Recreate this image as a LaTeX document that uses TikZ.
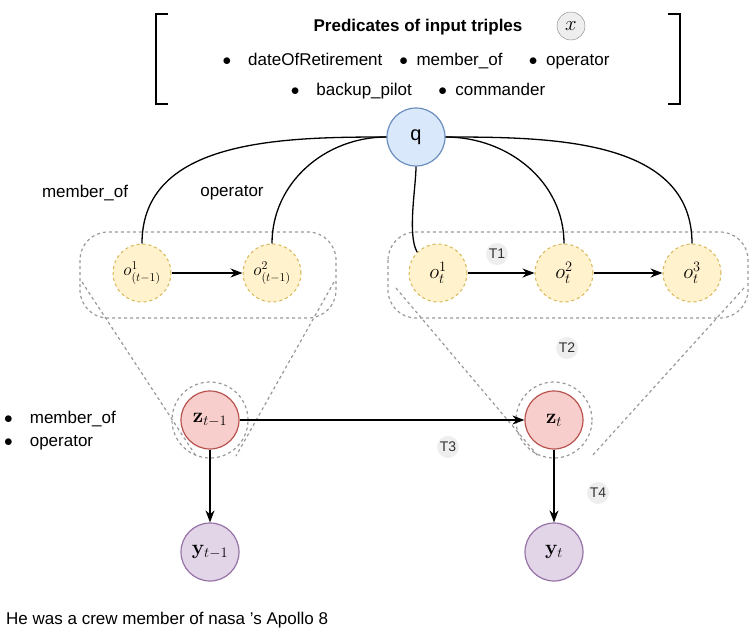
\documentclass[tikz,border=0pt]{standalone}
\usepackage[no-math]{fontspec}
\setmainfont{Liberation Sans}
\usepackage{amsmath}
\usetikzlibrary{arrows.meta}
\definecolor{qfill}{HTML}{DAE8FC}\definecolor{qdraw}{HTML}{6C8EBF}
\definecolor{ofill}{HTML}{FFF2CC}\definecolor{odraw}{HTML}{D6B656}
\definecolor{zfill}{HTML}{F8CECC}\definecolor{zdraw}{HTML}{B85450}
\definecolor{yfill}{HTML}{E1D5E7}\definecolor{ydraw}{HTML}{9673A6}
\definecolor{tagfill}{HTML}{EEEEEE}
\begin{document}
\begin{tikzpicture}[x=1pt,y=-1pt,
    font=\fontsize{17}{20}\selectfont,
    every node/.style={inner sep=0pt},
    qnode/.style={circle,minimum size=58pt,fill=qfill,draw=qdraw,line width=1.2pt,font=\fontsize{20}{22}\selectfont},
    onode/.style={circle,minimum size=58pt,fill=ofill,draw=odraw,dashed,line width=1pt},
    znode/.style={circle,minimum size=58pt,fill=zfill,draw=zdraw,line width=1.2pt,font=\fontsize{20}{22}\selectfont},
    ynode/.style={circle,minimum size=58pt,fill=yfill,draw=ydraw,line width=1.2pt,font=\fontsize{20}{22}\selectfont},
    ring/.style={circle,minimum size=76pt,draw=gray!80,dashed,line width=1.2pt},
    grp/.style={draw=gray!80,dashed,line width=1.2pt,rounded corners=28pt},
    tri/.style={draw=gray!80,dashed,line width=1.2pt},
    tag/.style={circle,fill=tagfill,minimum size=22pt,font=\fontsize{14}{16}\selectfont,text=black!80},
    arr/.style={-{Stealth[length=12pt,width=9pt]},line width=1.3pt},
    lnk/.style={line width=1.3pt},
]
\useasboundingbox (0,0) rectangle (752,637);

% header
\draw[line width=2.8pt] (168,14) -- (156,14) -- (156,104) -- (168,104);
\draw[line width=2.8pt] (668,14) -- (680,14) -- (680,104) -- (668,104);
\node[font=\fontsize{17}{20}\selectfont\bfseries] (title) at (418,27) {Predicates of input triples};
\node[circle,draw=gray,fill=tagfill,minimum size=28pt,font=\fontsize{20}{22}\selectfont] (x) at (571,26) {$x$};
\node (p1) at (416,61) {$\bullet$\quad dateOfRetirement\quad $\bullet$\enspace member\_of\quad\ \ $\bullet$\enspace operator};
\node (p2) at (418,91) {$\bullet$\quad backup\_pilot\quad\ \ $\bullet$\enspace commander};

% dashed groups and triangles
\draw[grp] (80,232) rectangle (336,318);
\draw[grp] (388,232) rectangle (748,318);
\draw[tri] (82,282) -- (196,456);
\draw[tri] (334,282) -- (236,456);
\draw[tri] (396,288) -- (538,456);
\draw[tri] (744,288) -- (592,456);

% nodes
\node[qnode] (q) at (416,137) {q};
\node[onode] (oa1) at (142,273) {$o^1_{(t-1)}$};
\node[onode] (oa2) at (272,273) {$o^2_{(t-1)}$};
\node[onode,font=\fontsize{22}{24}\selectfont] (ob1) at (438,273) {$o^1_t$};
\node[onode,font=\fontsize{22}{24}\selectfont] (ob2) at (564,273) {$o^2_t$};
\node[onode,font=\fontsize{22}{24}\selectfont] (ob3) at (692,273) {$o^3_t$};
\node[ring] (ra) at (210,420) {};
\node[ring] (rb) at (554,420) {};
\node[znode] (za) at (210,420) {$\mathbf{z}_{t-1}$};
\node[znode] (zb) at (554,420) {$\mathbf{z}_t$};
\node[ynode] (ya) at (210,552) {$\mathbf{y}_{t-1}$};
\node[ynode] (yb) at (554,552) {$\mathbf{y}_t$};

% connectors
\draw[lnk] (q.west) to[out=180,in=90] (oa1.north);
\draw[lnk] (q.west) to[out=180,in=90] (oa2.north);
\draw[lnk] (q.south) to[out=-90,in=120,looseness=0.6] (ob1.north west);
\draw[lnk] (q.east) to[out=0,in=90] (ob2.north);
\draw[lnk] (q.east) to[out=0,in=90] (ob3.north);
\draw[arr] (oa1) -- (oa2);
\draw[arr] (ob1) -- (ob2);
\draw[arr] (ob2) -- (ob3);
\draw[arr] (za) -- (zb);
\draw[arr] (za) -- (ya);
\draw[arr] (zb) -- (yb);

% labels
\node (l1) at (85,193) {member\_of};
\node (l2) at (232,193) {operator};
\node[tag] (t1) at (497,254) {T1};
\node[tag] (t2) at (567,348) {T2};
\node[tag] (t3) at (448,447) {T3};
\node[tag] (t4) at (598,493) {T4};
\node[anchor=west] (b1) at (4,419) {$\bullet$\quad member\_of};
\node[anchor=west] (b2) at (4,443) {$\bullet$\quad operator};
\node[anchor=west] (s) at (6,620) {He was a crew member of nasa 's Apollo 8};
\end{tikzpicture}
\end{document}
